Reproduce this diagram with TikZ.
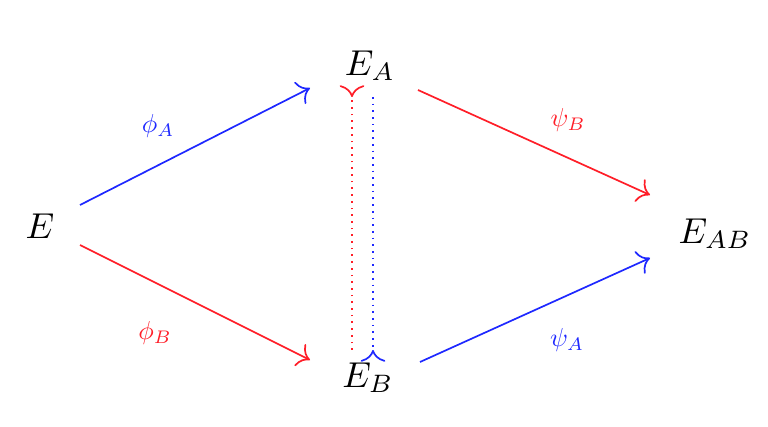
\documentclass[tikz,border=0pt]{standalone}
\usetikzlibrary{arrows.meta}
\begin{document}
\begin{tikzpicture}[x=1pt,y=-1pt,
  lab/.style={scale=3.6},
  sm/.style={scale=2.6},
  arr/.style={-{To[scale=2.2]},line width=1.7pt},
  dot/.style={line width=1.7pt,dash pattern=on 1.7pt off 5pt}]
\definecolor{myblue}{RGB}{30,40,255}
\definecolor{myred}{RGB}{255,30,40}
\useasboundingbox (0,0) rectangle (768,427);
\node[lab] (E) at (40,226) {$E$};
\node[lab] (EA) at (370,66) {$E_A$};
\node[lab] (EB) at (368,378) {$E_B$};
\node[lab] (EAB) at (715,234) {$E_{AB}$};
\coordinate (e1) at (80,205); \coordinate (a1) at (310,88);
\coordinate (e2) at (80,245); \coordinate (b1) at (310,360);
\coordinate (a2) at (418,90); \coordinate (ab1) at (650,195);
\coordinate (b2) at (420,362); \coordinate (ab2) at (650,258);
\draw[arr,myblue] (e1) -- (a1);
\draw[arr,myred] (e2) -- (b1);
\draw[arr,myred] (a2) -- (ab1);
\draw[arr,myblue] (b2) -- (ab2);
\coordinate (r0) at (352,350); \coordinate (r1) at (352,97);
\coordinate (u0) at (373,97); \coordinate (u1) at (373,350);
\draw[dot,myred] (r0) -- (r1);
\draw[arr,myred] ([yshift=3]r1) -- (r1);
\draw[dot,myblue] (u0) -- (u1);
\draw[arr,myblue] ([yshift=-3]u1) -- (u1);
\node[sm,myblue] (pA) at (158,126) {$\phi_A$};
\node[sm,myred] (pB) at (155,333) {$\phi_B$};
\node[sm,myred] (sB) at (568,120) {$\psi_B$};
\node[sm,myblue] (sA) at (567,340) {$\psi_A$};
\end{tikzpicture}
\end{document}
